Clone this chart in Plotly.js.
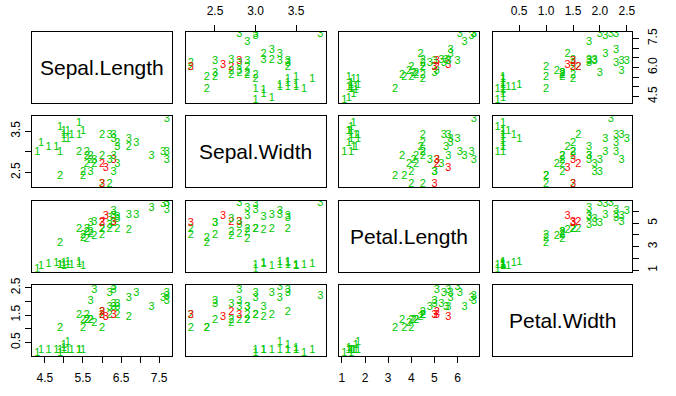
<!DOCTYPE html>
<html><head><meta charset="utf-8">
<script src="https://cdn.plot.ly/plotly-3.0.1.min.js"></script>
<style>html,body{margin:0;padding:0;background:#fff;}#chart{width:676px;height:396px;}</style>
</head><body><div id="chart"></div>
<script>
const varNames = ["Sepal.Length","Sepal.Width","Petal.Length","Petal.Width"];
// iris rows shown (setosa, versicolor, virginica)
const sepalLength = [4.3,4.4,4.6,4.8,4.9,4.9,5.0,5.0,5.0,5.1,5.1,5.2,5.4,5.4,5.5,
  4.9,5.4,5.6,5.5,5.6,6.0,6.2,6.0,6.7,6.4,6.0,5.7,5.6,5.8,5.7,5.5,6.0,
  7.7,6.2,6.3,6.3,6.7,6.9,7.3,7.6,7.7,7.7,6.4,6.3,5.7,5.8,6.0,6.3,6.1,6.4,6.3,6.2];
const sepalWidth = [3.0,3.2,3.1,3.1,3.0,3.6,3.5,3.3,3.4,3.5,3.3,3.4,3.4,3.7,3.5,
  2.4,3.0,3.0,2.4,2.9,2.2,2.2,3.4,3.1,3.2,2.7,2.8,2.7,2.7,2.9,2.5,2.9,
  3.8,3.4,3.4,3.3,3.3,3.2,2.9,3.0,3.0,2.8,2.7,2.5,2.5,2.8,2.2,2.8,2.6,3.1,2.9,2.8];
const petalLength = [1.1,1.3,1.5,1.6,1.4,1.4,1.3,1.4,1.6,1.4,1.7,1.4,1.7,1.5,1.3,
  3.3,4.5,4.5,3.7,3.6,4.0,4.5,4.5,4.4,4.5,5.1,4.1,4.2,3.9,4.2,4.0,4.5,
  6.7,5.4,5.6,6.0,5.7,5.7,6.3,6.6,6.1,6.7,5.3,5.0,5.0,5.1,5.0,5.1,5.6,5.5,5.6,4.8];
const petalWidth = [0.1,0.2,0.2,0.2,0.2,0.1,0.3,0.2,0.4,0.2,0.5,0.2,0.2,0.2,0.2,
  1.0,1.5,1.5,1.0,1.3,1.0,1.5,1.6,1.4,1.5,1.6,1.3,1.3,1.2,1.3,1.3,1.5,
  2.2,2.3,2.4,2.5,2.1,2.3,1.8,2.1,2.3,2.0,1.9,1.9,2.0,2.4,1.5,1.5,1.4,1.8,1.8,1.8];
const species = [1,1,1,1,1,1,1,1,1,1,1,1,1,1,1,
  2,2,2,2,2,2,2,2,2,2,2,2,2,2,2,2,2,
  3,3,3,3,3,3,3,3,3,3,3,3,3,3,3,3,3,3,3,3];
const misclassified = [0,0,0,0,0,0,0,0,0,0,0,0,0,0,0,
  0,0,0,0,0,0,0,0,0,0,1,0,0,0,0,0,0,
  0,0,0,0,0,0,0,0,0,0,0,0,0,0,1,1,1,0,0,0];

const tickValsSL = [4.5,5.0,5.5,6.0,6.5,7.0,7.5];
const tickTextSLx = ["4.5","","5.5","","6.5","","7.5"];
const tickTextSLy = ["4.5","","","6.0","","","7.5"];
const tickValsSW = [2.5,3.0,3.5];
const tickTextSWx = ["2.5","3.0","3.5"];
const tickTextSWy = ["2.5","","3.5"];
const tickValsPL = [1,2,3,4,5,6];
const tickTextPLx = ["1","2","3","4","5","6"];
const tickTextPLy = ["1","","3","","5",""];
const tickValsPW = [0.5,1.0,1.5,2.0,2.5];
const tickTextPWx = ["0.5","1.0","1.5","2.0","2.5"];
const tickTextPWy = ["0.5","","1.5","","2.5"];

const GREEN = "#00C800", RED = "#FF0000";
const FONT = "Liberation Sans, Arial, sans-serif";
const vars = [sepalLength, sepalWidth, petalLength, petalWidth];
function ext(a){const mn=Math.min(...a), mx=Math.max(...a), d=(mx-mn)*0.04; return [mn-d, mx+d];}
const ranges = vars.map(ext);
const labels = species.map(String);
const colors = misclassified.map(m => m ? RED : GREEN);

const W = 600, H = 324, colW = 140, colStep = 153.5, rowH = 71, rowStep = 84.33;
const colDom = [0,1,2,3].map(c => [c*colStep/W, (c*colStep+colW)/W]);
const rowDom = [0,1,2,3].map(r => [1-(r*rowStep+rowH)/H, 1-(r*rowStep)/H]);

const layout = {
  width:676, height:396, margin:{l:32, r:44, t:32, b:40},
  showlegend:false, paper_bgcolor:"#fff", plot_bgcolor:"#fff",
  font:{family:FONT, size:12, color:"#000"}, annotations:[]
};
const data = [];
const baseAxis = {showline:true, mirror:true, linecolor:"#000", linewidth:1,
  showgrid:false, zeroline:false, ticks:"", showticklabels:false, fixedrange:true};
function tickSpec(vals, text, side, angle, standoff){
  return {ticks:"outside", ticklen:6, tickwidth:1, tickcolor:"#000", showticklabels:true,
    tickmode:"array", tickvals:vals, ticktext:text, side:side, tickangle:angle,
    ticklabelstandoff:standoff, tickfont:{family:FONT, size:12, color:"#000"}};
}
const xSpecs = {"3,0":tickSpec(tickValsSL,tickTextSLx,"bottom",0,5),
  "0,1":tickSpec(tickValsSW,tickTextSWx,"top",0,5),
  "3,2":tickSpec(tickValsPL,tickTextPLx,"bottom",0,5),
  "0,3":tickSpec(tickValsPW,tickTextPWx,"top",0,5)};
const ySpecs = {"0,3":tickSpec(tickValsSL,tickTextSLy,"right",-90,4),
  "1,0":tickSpec(tickValsSW,tickTextSWy,"left",-90,0),
  "2,3":tickSpec(tickValsPL,tickTextPLy,"right",-90,4),
  "3,0":tickSpec(tickValsPW,tickTextPWy,"left",-90,0)};

for (let r=0;r<4;r++){
  for (let c=0;c<4;c++){
    const i = r*4+c+1;
    const xn = i===1?"x":"x"+i, yn = i===1?"y":"y"+i;
    const xa = i===1?"xaxis":"xaxis"+i, ya = i===1?"yaxis":"yaxis"+i;
    const diag = r===c;
    layout[xa] = Object.assign({}, baseAxis, {domain:colDom[c], anchor:yn, range: diag?[0,1]:ranges[c]}, xSpecs[r+","+c]||{});
    layout[ya] = Object.assign({}, baseAxis, {domain:rowDom[r], anchor:xn, range: diag?[0,1]:ranges[r]}, ySpecs[r+","+c]||{});
    if (diag){
      data.push({type:"scatter", mode:"markers", x:[null], y:[null], xaxis:xn, yaxis:yn, hoverinfo:"skip"});
      layout.annotations.push({xref:"paper", yref:"paper", x:(colDom[c][0]+colDom[c][1])/2,
        y:(rowDom[r][0]+rowDom[r][1])/2, text:varNames[r], showarrow:false,
        xanchor:"center", yanchor:"middle", font:{family:FONT, size:21, color:"#000"}});
    } else {
      data.push({type:"scatter", mode:"text", x:vars[c], y:vars[r], xaxis:xn, yaxis:yn,
        text:labels, textposition:"middle center", hoverinfo:"skip", cliponaxis:true,
        textfont:{family:FONT, size:11, color:colors}});
    }
  }
}
Plotly.newPlot("chart", data, layout, {staticPlot:true, displayModeBar:false});
</script>
</body></html>
